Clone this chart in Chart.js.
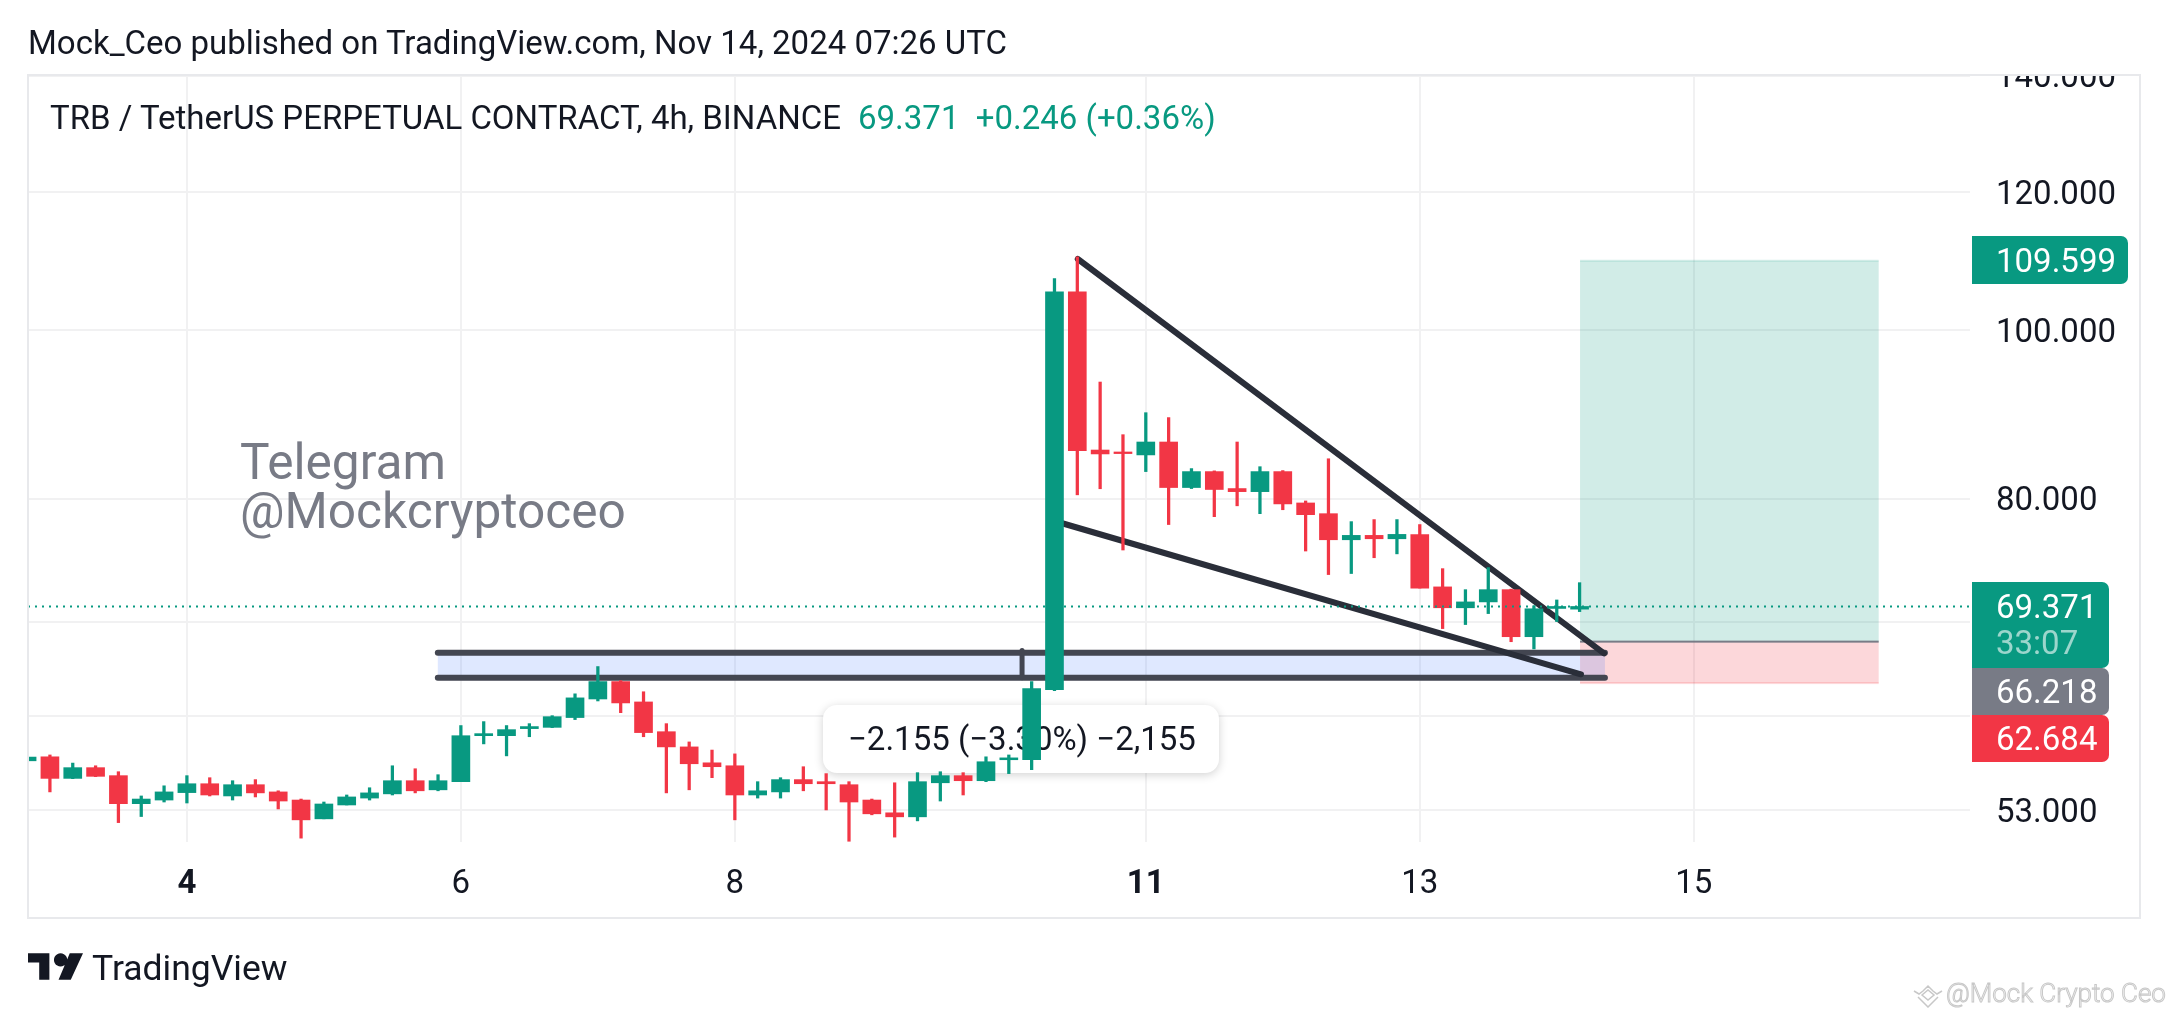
<!DOCTYPE html>
<html>
<head>
<meta charset="utf-8">
<script src="https://cdn.jsdelivr.net/npm/chart.js@4/dist/chart.umd.min.js"></script>
<style>
html,body{margin:0;padding:0;background:#fff;width:2168px;height:1015px;overflow:hidden}
#wrap{position:relative;width:2168px;height:1015px;font-family:Roboto,sans-serif;color:#131722}
canvas{position:absolute;left:0;top:0}
.t{position:absolute;white-space:pre;line-height:1}
</style>
</head>
<body>
<div id="wrap">
<canvas id="c" width="2168" height="1015"></canvas>
<div class="t" id="ttl" style="left:28px;top:26px;font-size:33px"></div>
<div class="t" id="sym" style="left:50px;top:101px;font-size:33px"></div>
<div class="t" id="chg" style="left:858px;top:101px;font-size:33px;color:#089981"></div>
<svg style="position:absolute;left:28px;top:953px" width="55" height="27" viewBox="0 0 54 26">
<path fill="#131722" d="M21 26H11V9H0V0h21zM42 26H30L41 0h13zM32 0a6.5 6.5 0 1 1-.01 0z"/>
</svg>
<div class="t" id="brand" style="left:92px;top:951px;font-size:35.5px"></div>
<svg style="position:absolute;left:1913px;top:982px" width="30" height="26" viewBox="0 0 30 26" fill="none" stroke="#c8c8c8" stroke-width="1.5">
<path d="M1 9l5 3 4-3 5-5 5 5 4 3 5-3M9 13l6-5 6 5-6 5zM5 15l10 10 10-10"/>
</svg>
<div class="t" id="wm" style="left:1946px;top:980px;font-size:26px;font-weight:300;color:#fff;-webkit-text-stroke:1px #c8c8c8"></div>
</div>
<script>
// ---- text ----
const titleText = 'Mock_Ceo published on TradingView.com, Nov 14, 2024 07:26 UTC';
const symbolText = 'TRB / TetherUS PERPETUAL CONTRACT, 4h, BINANCE';
const changeText = '69.371  +0.246 (+0.36%)';
const brandText = 'TradingView';
const creditText = '@Mock Crypto Ceo';
const noteLines = ['Telegram', '@Mockcryptoceo'];
const measureText = '\u22122.155 (\u22123.30%) \u22122,155';

// ---- axes ----
const xTickBars = [0, 12, 24, 42, 54, 66];
const xTickLabels = ['4', '6', '8', '11', '13', '15'];
const xBoldLabels = ['4', '11'];
const yTickValues = [53, 60, 68, 80, 100, 120, 140];
const yTickLabels = ['53.000', '', '', '80.000', '100.000', '120.000', '140.000'];

// ---- candles (bar -7 is the one cut by the left edge) ----
const barIndex = [-7,-6,-5,-4,-3,-2,-1,0,1,2,3,4,5,6,7,8,9,10,11,12,13,14,15,16,17,18,19,20,21,22,23,24,25,26,27,28,29,30,31,32,33,34,35,36,37,38,39,40,41,42,43,44,45,46,47,48,49,50,51,52,53,54,55,56,57,58,59,60,61];
const opens = [56.56,56.86,55.26,56.05,55.46,53.44,53.70,54.23,54.87,53.99,54.80,54.28,53.70,52.38,53.35,53.84,54.14,55.09,54.43,55.02,58.47,58.47,59.02,59.12,59.89,61.38,62.81,61.14,58.78,57.61,56.41,56.19,54.06,54.28,55.17,55.02,54.80,53.70,52.80,52.52,54.94,55.46,55.09,56.64,56.64,62.14,105.19,85.32,85.10,84.77,86.23,81.19,82.92,81.08,80.75,82.92,79.55,78.43,75.77,76.21,75.87,76.28,71.19,69.25,69.79,70.93,66.65,69.19,69.125];
const highs = [56.95,57.00,56.39,56.19,55.75,53.99,54.72,55.46,55.31,55.09,55.17,54.36,53.77,53.56,54.06,54.58,56.19,55.97,55.53,59.26,59.57,59.26,59.41,60.04,61.80,64.07,62.89,61.97,59.41,57.99,57.37,57.08,55.02,55.31,56.12,55.61,55.02,53.77,54.94,55.68,55.75,55.68,56.86,57.00,62.81,107.04,110.16,93.35,87.07,89.64,89.06,83.25,83.00,86.23,83.46,83.03,79.76,84.34,77.61,77.82,77.82,77.31,72.93,70.93,73.03,70.98,69.43,69.97,71.59];
const lows = [56.50,54.28,55.24,55.39,52.12,52.54,53.56,53.49,53.99,53.70,53.92,53.07,51.06,52.38,53.35,53.70,54.06,54.21,54.36,55.02,57.84,56.93,58.39,59.10,59.73,61.22,60.28,58.39,54.21,54.43,55.31,52.31,53.84,53.84,54.36,53.00,50.85,52.66,51.13,52.24,53.63,54.06,55.02,55.61,55.90,62.05,80.41,81.06,74.75,82.92,77.31,81.08,78.12,79.25,78.43,78.84,74.65,72.36,72.46,73.99,74.37,71.08,67.37,67.73,68.72,66.21,65.58,68.00,68.90];
const closes = [56.84,55.26,56.05,55.41,53.44,53.77,54.28,54.87,54.06,54.80,54.21,53.63,52.31,53.42,53.92,54.21,55.09,54.36,55.09,58.47,58.63,58.94,59.18,59.96,61.47,62.81,61.06,58.71,57.61,56.34,56.12,54.06,54.36,55.17,54.87,54.87,53.56,52.73,52.52,55.02,55.46,55.09,56.49,56.78,62.23,105.19,85.24,84.88,84.92,86.23,81.19,82.92,80.98,80.75,82.92,79.45,78.33,75.77,76.21,75.87,76.31,71.08,69.25,69.79,70.93,66.65,69.16,69.37,69.371];

// ---- drawings (bar index, price) ----
const lastPrice = 69.371;
const upperWedgeBars = [39.02, 62.07];
const upperWedgePrices = [109.85, 65.2];
const lowerWedgeBars = [37.96, 61.06];
const lowerWedgePrices = [77.7, 63.42];
const bandBars = [10.99, 62.11];
const bandPrices = [65.25, 63.13];
const bandStemBars = [36.58, 36.58];
const bandStemPrices = [65.45, 63.13];
const targetStopBars = [61.02, 74.10];
const targetPrice = 109.599;
const entryPrice = 66.218;
const stopPrice = 62.684;
const timerText = '33:07';

// ---- colours ----
const UP = '#089981', DOWN = '#f23645', GRAY = '#787b86', DARK = '#2a2e39', BAND = '#434651';
const GRID = '#f1f1f2';

document.getElementById('ttl').textContent = titleText;
document.getElementById('sym').textContent = symbolText;
document.getElementById('chg').textContent = changeText;
document.getElementById('brand').textContent = brandText;
document.getElementById('wm').textContent = creditText;

const candleColors = opens.map((o, i) => closes[i] >= o ? UP : DOWN);
const pairs = (xs, ys) => xs.map((x, i) => ({x, y: ys[i]}));
const lineDs = (xs, ys, color, width) => ({
  type: 'line', data: pairs(xs, ys), borderColor: color, borderWidth: width,
  borderCapStyle: 'round', pointRadius: 0, tension: 0, order: 5
});

function roundRightTag(ctx, x, y, w, h, r, color) {
  ctx.fillStyle = color;
  ctx.beginPath();
  ctx.roundRect(x, y, w, h, [0, r, r, 0]);
  ctx.fill();
}

const drawings = {
  id: 'drawings',
  beforeDatasetsDraw(chart) {
    const {ctx, scales: {x, y}} = chart;
    ctx.save();
    ctx.fillStyle = GRAY;
    ctx.font = '49.6px Roboto';
    ctx.textBaseline = 'alphabetic';
    ctx.fillText(noteLines[0], 240, 479);
    ctx.fillText(noteLines[1], 240, 528);
    // long position box
    const bx0 = x.getPixelForValue(targetStopBars[0]), bx1 = x.getPixelForValue(targetStopBars[1]);
    const yT = y.getPixelForValue(targetPrice), yE = y.getPixelForValue(entryPrice), yS = y.getPixelForValue(stopPrice);
    ctx.fillStyle = 'rgba(8,153,129,0.19)';
    ctx.fillRect(bx0, yT, bx1 - bx0, yE - yT);
    ctx.fillStyle = 'rgba(242,54,69,0.2)';
    ctx.fillRect(bx0, yE, bx1 - bx0, yS - yE);
    ctx.fillStyle = 'rgba(8,153,129,0.14)';
    ctx.fillRect(bx0, yT - 1, bx1 - bx0, 2);
    ctx.fillStyle = 'rgba(242,54,69,0.18)';
    ctx.fillRect(bx0, yS - 1, bx1 - bx0, 2);
    ctx.fillStyle = GRAY;
    ctx.fillRect(bx0, yE - 1, bx1 - bx0, 2);
    // band fill
    const ax0 = x.getPixelForValue(bandBars[0]), ax1 = x.getPixelForValue(bandBars[1]);
    const ay0 = y.getPixelForValue(bandPrices[0]), ay1 = y.getPixelForValue(bandPrices[1]);
    ctx.fillStyle = 'rgba(41,98,255,0.15)';
    ctx.fillRect(ax0, ay0, ax1 - ax0, ay1 - ay0);
    // measure bubble
    ctx.save();
    ctx.shadowColor = 'rgba(0,0,0,0.18)';
    ctx.shadowBlur = 10;
    ctx.shadowOffsetY = 2;
    ctx.fillStyle = '#fff';
    ctx.beginPath();
    ctx.roundRect(823, 705, 396, 68, 14);
    ctx.fill();
    ctx.restore();
    ctx.fillStyle = '#131722';
    ctx.font = '33px Roboto';
    ctx.textBaseline = 'middle';
    ctx.fillText(measureText, 848, 742);
    ctx.restore();
  },
  afterDatasetsDraw(chart) {
    const {ctx, chartArea: a, scales: {y}} = chart;
    ctx.save();
    const py = Math.round(y.getPixelForValue(lastPrice)) + 0.5;
    ctx.strokeStyle = UP;
    ctx.lineWidth = 2;
    ctx.setLineDash([2, 5]);
    ctx.beginPath();
    ctx.moveTo(a.left, py);
    ctx.lineTo(a.right, py);
    ctx.stroke();
    ctx.setLineDash([]);
    ctx.restore();
  },
  afterDraw(chart) {
    const {ctx} = chart;
    ctx.save();
    ctx.fillStyle = '#fff';
    ctx.fillRect(0, 0, 2168, 74);
    ctx.strokeStyle = '#e8e9ec';
    ctx.lineWidth = 2;
    ctx.strokeRect(28, 75, 2112, 843);
    const L = 1972;
    roundRightTag(ctx, L, 236, 156, 48, 7, UP);
    roundRightTag(ctx, L, 582, 137, 86, 7, UP);
    roundRightTag(ctx, L, 668, 137, 47, 7, GRAY);
    roundRightTag(ctx, L, 715, 137, 47, 7, DOWN);
    ctx.font = '33px Roboto';
    ctx.textBaseline = 'middle';
    ctx.fillStyle = '#fff';
    ctx.fillText(targetPrice.toFixed(3), 1996, 264);
    ctx.fillText(lastPrice.toFixed(3), 1996, 610);
    ctx.fillText(entryPrice.toFixed(3), 1996, 695);
    ctx.fillText(stopPrice.toFixed(3), 1996, 742);
    ctx.fillStyle = 'rgba(255,255,255,0.6)';
    ctx.fillText(timerText, 1996, 646);
    ctx.restore();
  }
};

new Chart(document.getElementById('c'), {
  type: 'bar',
  data: {
    datasets: [
      {
        label: 'wick', grouped: false, order: 2, barThickness: 2.6, borderWidth: 0,
        data: barIndex.map((b, i) => ({x: b, y: [lows[i], highs[i]]})),
        backgroundColor: candleColors
      },
      {
        label: 'body', grouped: false, order: 1, barThickness: 18, borderWidth: 0,
        data: barIndex.map((b, i) => ({x: b, y: [opens[i], closes[i]]})),
        backgroundColor: candleColors
      },
      Object.assign(lineDs(upperWedgeBars, upperWedgePrices, DARK, 6), {label: 'upper wedge'}),
      Object.assign(lineDs(lowerWedgeBars, lowerWedgePrices, DARK, 6), {label: 'lower wedge'}),
      Object.assign(lineDs(bandBars, [bandPrices[0], bandPrices[0]], BAND, 6), {label: 'band top'}),
      Object.assign(lineDs(bandBars, [bandPrices[1], bandPrices[1]], BAND, 6), {label: 'band bottom'}),
      Object.assign(lineDs(bandStemBars, bandStemPrices, BAND, 5), {label: 'band stem'})
    ]
  },
  options: {
    responsive: false,
    animation: false,
    devicePixelRatio: 1,
    layout: {padding: {left: 28, top: 75, right: 28, bottom: 97}},
    plugins: {legend: {display: false}, tooltip: {enabled: false}, title: {display: false}},
    events: [],
    scales: {
      x: {
        type: 'linear', offset: false, min: -6.96, max: 78.10,
        grid: {offset: false, color: GRID, lineWidth: 2, drawTicks: false},
        border: {display: false},
        afterBuildTicks(s) { s.ticks = xTickBars.map(v => ({value: v})); },
        afterFit(s) { s.height = 76; },
        ticks: {
          autoSkip: false, maxRotation: 0, padding: 23, color: '#131722',
          callback: (v) => xTickLabels[xTickBars.indexOf(v)],
          font: (c) => ({family: 'Roboto', size: 33,
            weight: c.tick && xBoldLabels.includes(xTickLabels[xTickBars.indexOf(c.tick.value)]) ? '700' : '400'})
        }
      },
      y: {
        type: 'logarithmic', position: 'right', min: 50.8, max: 140.12,
        grid: {color: GRID, lineWidth: 2, drawTicks: false},
        border: {display: false},
        afterBuildTicks(s) { s.ticks = yTickValues.map(v => ({value: v})); },
        afterFit(s) { s.width = 170; },
        ticks: {
          autoSkip: false, padding: 26, crossAlign: 'near', color: '#131722', labelOffset: 3.5,
          font: {family: 'Roboto', size: 33},
          callback: (v) => yTickLabels[yTickValues.indexOf(v)]
        }
      }
    }
  },
  plugins: [drawings]
});
</script>
</body>
</html>
